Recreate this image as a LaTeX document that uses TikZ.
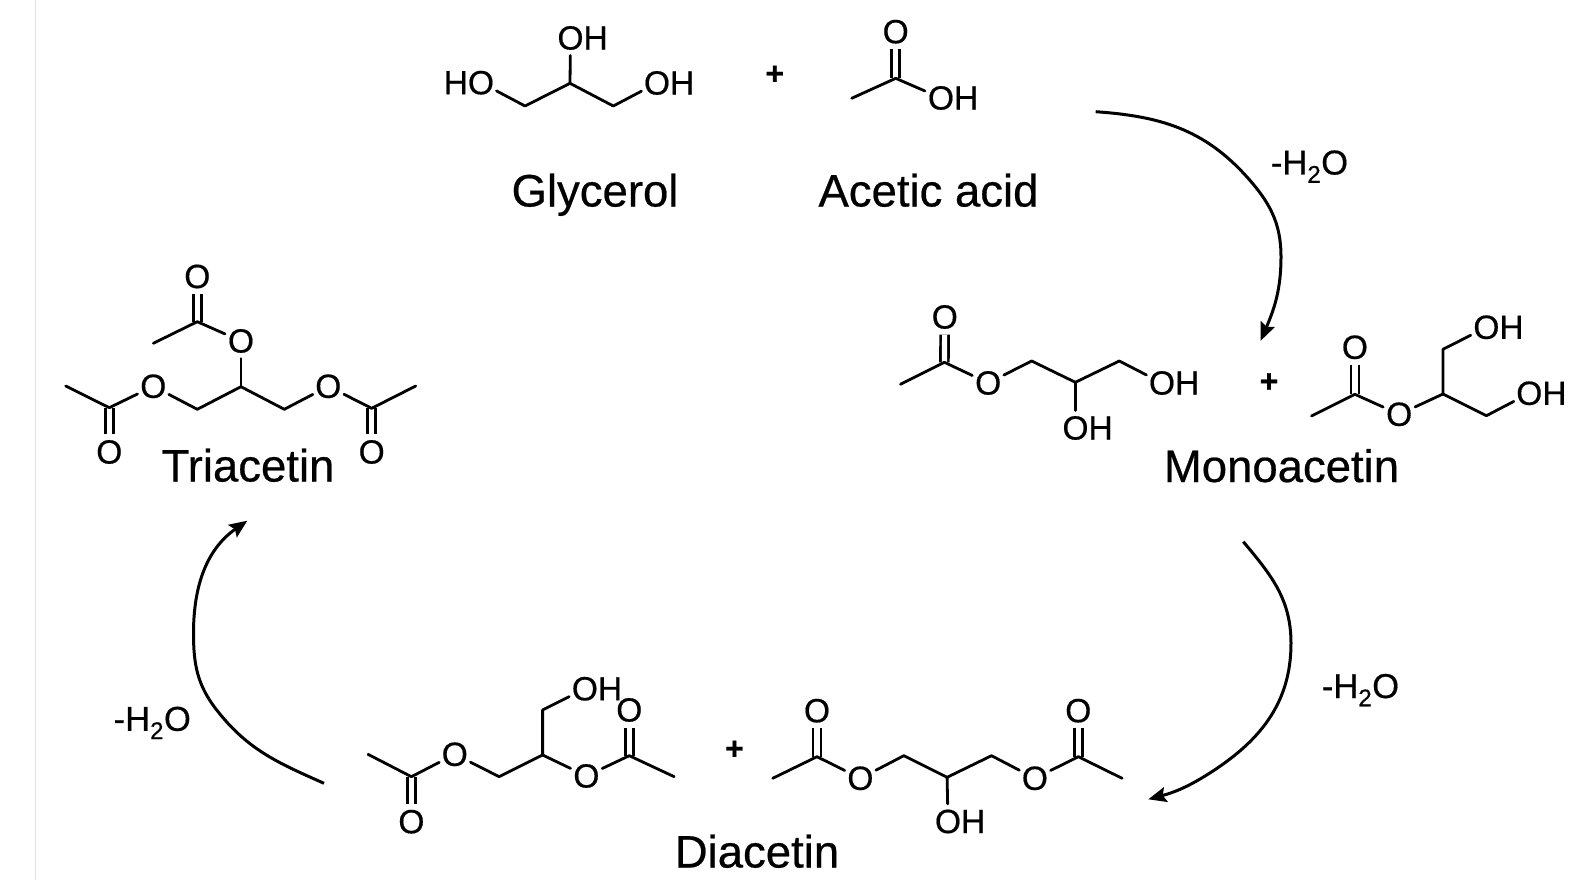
\documentclass[tikz,border=0pt]{standalone}
\usepackage{fontspec}
\setmainfont[FakeBold=0.5]{Liberation Sans}
\usetikzlibrary{arrows.meta}
\tikzset{
  atom/.style={circle,inner sep=0pt,outer sep=0pt,minimum size=35pt,font=\fontsize{33.5}{36}\selectfont},
  bond/.style={line width=2.8pt,line join=round,line cap=round},
  dbl/.style={line width=2.7pt,double,double distance=5.2pt},
  name label/.style={anchor=base,inner sep=0pt,font=\fontsize{45.5}{50}\selectfont},
  water/.style={anchor=base west,inner sep=0pt,font=\fontsize{34.5}{38}\selectfont},
  plus sign/.style={inner sep=0pt,font=\bfseries\fontsize{32}{36}\selectfont},
  curved arrow/.style={line width=3pt,-{Stealth[length=18pt,width=15pt,inset=3pt]}},
}
\begin{document}
\begin{tikzpicture}[x=1pt,y=1pt]
\useasboundingbox (0,0) rectangle (1596,-888);
\fill[white] (0,0) rectangle (1596,-888);
\coordinate (edgeT) at (35.7,0);
\coordinate (edgeB) at (35.7,-880);
\draw[black!12,line width=1.2pt] (edgeT) -- (edgeB);

% Glycerol
\node[atom] (gO1) at (481,-82.7) {\llap{H}O};
\node[atom] (gO2) at (570.5,-38) {O\rlap{H}};
\node[atom] (gO3) at (657,-83) {O\rlap{H}};
\coordinate (gC1) at (525,-106);
\coordinate (gC2) at (570,-83.3);
\coordinate (gC3) at (613.3,-106);
\draw[bond] (gO1) -- (gC1) -- (gC2) -- (gC3) -- (gO3);
\draw[bond] (gC2) -- (gO2);
\node[plus sign] (p1) at (774.8,-75) {+};
% Acetic acid
\node[atom] (aO1) at (895.7,-31.7) {O};
\node[atom] (aO2) at (941,-98) {O\rlap{H}};
\coordinate (aC1) at (895.7,-78.3);
\coordinate (aM) at (851.7,-98.3);
\draw[dbl] (aC1) -- (aO1);
\draw[bond] (aM) -- (aC1) -- (aO2);
\node[name label] (glab) at (595,-206.5) {Glycerol};
\node[name label] (alab) at (928.5,-206.5) {Acetic acid};

% Triacetin
\node[atom] (tO1) at (197.3,-276.5) {O};
\node[atom] (tO2) at (241,-341) {O};
\node[atom] (tO3) at (153.3,-386.3) {O};
\node[atom] (tO4) at (328.3,-386.3) {O};
\node[atom] (tO5) at (109.3,-452) {O};
\node[atom] (tO6) at (371.7,-452) {O};
\coordinate (tC1) at (197.3,-321.7);
\coordinate (tM1) at (153.3,-343.3);
\coordinate (tC2) at (241,-386.7);
\coordinate (tC3) at (197.3,-409.3);
\coordinate (tC4) at (284.3,-409.3);
\coordinate (tC5) at (109.3,-407.7);
\coordinate (tM2) at (65.7,-386);
\coordinate (tC6) at (371.7,-408.3);
\coordinate (tM3) at (415.7,-386);
\draw[dbl] (tC1) -- (tO1);
\draw[dbl] (tC5) -- (tO5);
\draw[dbl] (tC6) -- (tO6);
\draw[bond] (tM1) -- (tC1) -- (tO2);
\draw[bond] (tO2) -- (tC2);
\draw[bond] (tM2) -- (tC5) -- (tO3);
\draw[bond] (tO3) -- (tC3) -- (tC2) -- (tC4) -- (tO4);
\draw[bond] (tO4) -- (tC6) -- (tM3);
\node[name label] (tlab) at (248,-481.5) {Triacetin};

% Monoacetin A
\node[atom] (mO1) at (944.8,-317) {O};
\node[atom] (mO2) at (988.2,-383) {O};
\node[atom] (mO3) at (1162,-383) {O\rlap{H}};
\node[atom] (mO4) at (1075.5,-428) {O\rlap{H}};
\coordinate (mC1) at (944.4,-362.3);
\coordinate (mM) at (900.5,-384.3);
\coordinate (mC2) at (1031.6,-361);
\coordinate (mC3) at (1075.4,-382.3);
\coordinate (mC4) at (1119.3,-361);
\draw[dbl] (mC1) -- (mO1);
\draw[bond] (mM) -- (mC1) -- (mO2);
\draw[bond] (mO2) -- (mC2) -- (mC3) -- (mC4) -- (mO3);
\draw[bond] (mC3) -- (mO4);
\node[plus sign] (p2) at (1269,-382.7) {+};
% Monoacetin B
\node[atom] (nO1) at (1354.9,-347.3) {O};
\node[atom] (nO2) at (1399.2,-414.3) {O};
\node[atom] (nO3) at (1486.4,-327.3) {O\rlap{H}};
\node[atom] (nO4) at (1529.3,-393.3) {O\rlap{H}};
\coordinate (nC1) at (1354.9,-394.3);
\coordinate (nM) at (1311.5,-416);
\coordinate (nC2) at (1443,-394);
\coordinate (nC3) at (1443,-349.3);
\coordinate (nC4) at (1486.4,-415.7);
\draw[dbl] (nC1) -- (nO1);
\draw[bond] (nM) -- (nC1) -- (nO2);
\draw[bond] (nO2) -- (nC2) -- (nC3) -- (nO3);
\draw[bond] (nC2) -- (nC4) -- (nO4);
\node[name label] (mlab) at (1281.5,-482) {Monoacetin};

% Diacetin A
\node[atom] (dO1) at (411.4,-821.7) {O};
\node[atom] (dO2) at (454.8,-754.3) {O};
\node[atom] (dO3) at (584.9,-688.8) {O\rlap{H}};
\node[atom] (dO4) at (586.4,-776) {O};
\node[atom] (dO5) at (629.3,-710) {O};
\coordinate (dM1) at (368,-754.3);
\coordinate (dC1) at (411.4,-776.7);
\coordinate (dC2) at (499.2,-776.7);
\coordinate (dC3) at (542.6,-755);
\coordinate (dC4) at (542.6,-710);
\coordinate (dC5) at (629.3,-755.7);
\coordinate (dM2) at (674.2,-776.7);
\draw[dbl] (dC1) -- (dO1);
\draw[dbl] (dC5) -- (dO5);
\draw[bond] (dM1) -- (dC1) -- (dO2);
\draw[bond] (dO2) -- (dC2) -- (dC3) -- (dC4) -- (dO3);
\draw[bond] (dC3) -- (dO4);
\draw[bond] (dO4) -- (dC5) -- (dM2);
\node[plus sign] (p3) at (734.4,-750) {+};
% Diacetin B
\node[atom] (eO1) at (817,-710.7) {O};
\node[atom] (eO2) at (860.4,-778.3) {O};
\node[atom] (eO3) at (1034.9,-778.3) {O};
\node[atom] (eO4) at (1078.3,-710.7) {O};
\node[atom] (eO5) at (948,-821.5) {O\rlap{H}};
\coordinate (eM1) at (772.7,-778.3);
\coordinate (eC1) at (817,-756.7);
\coordinate (eC2) at (903.8,-755.7);
\coordinate (eC3) at (947.1,-777.3);
\coordinate (eC4) at (991.5,-755.7);
\coordinate (eC5) at (1078.3,-756.7);
\coordinate (eM2) at (1122.1,-778.3);
\draw[dbl] (eC1) -- (eO1);
\draw[dbl] (eC5) -- (eO4);
\draw[bond] (eM1) -- (eC1) -- (eO2);
\draw[bond] (eO2) -- (eC2) -- (eC3) -- (eC4) -- (eO3);
\draw[bond] (eO3) -- (eC5) -- (eM2);
\draw[bond] (eC3) -- (eO5);
\node[name label] (dlab) at (757,-867.5) {Diacetin};

% Reaction arrows
\coordinate (a1a) at (1095.7,-111.7);
\coordinate (a1e) at (1246.7,-176.7);
\coordinate (a1g) at (1281,-256.7);
\coordinate (a1j) at (1260.7,-340.7);
\draw[curved arrow] (a1a) to[out=-4,in=132] (a1e) to[out=-48,in=90] (a1g) to[out=-90,in=67] (a1j);
\coordinate (a2a) at (1243.3,-541.7);
\coordinate (a2d) at (1291,-643.3);
\coordinate (a2h) at (1206.7,-775);
\coordinate (a2j) at (1148.3,-799.3);
\draw[curved arrow] (a2a) to[out=-50,in=90] (a2d) to[out=-90,in=32] (a2h) to[out=-148,in=15] (a2j);
\coordinate (a3a) at (324,-783.3);
\coordinate (a3d) at (216.7,-710);
\coordinate (a3f) at (193.5,-633.3);
\coordinate (a3j) at (247.3,-520.7);
\draw[curved arrow] (a3a) to[out=156,in=-52] (a3d) to[out=128,in=-90] (a3f) to[out=90,in=-145] (a3j);
\node[water] (w1) at (1270.7,-174.5) {-H\textsubscript{2}O};
\node[water] (w2) at (1321.7,-698) {-H\textsubscript{2}O};
\node[water] (w3) at (113.5,-730.8) {-H\textsubscript{2}O};
\end{tikzpicture}
\end{document}
